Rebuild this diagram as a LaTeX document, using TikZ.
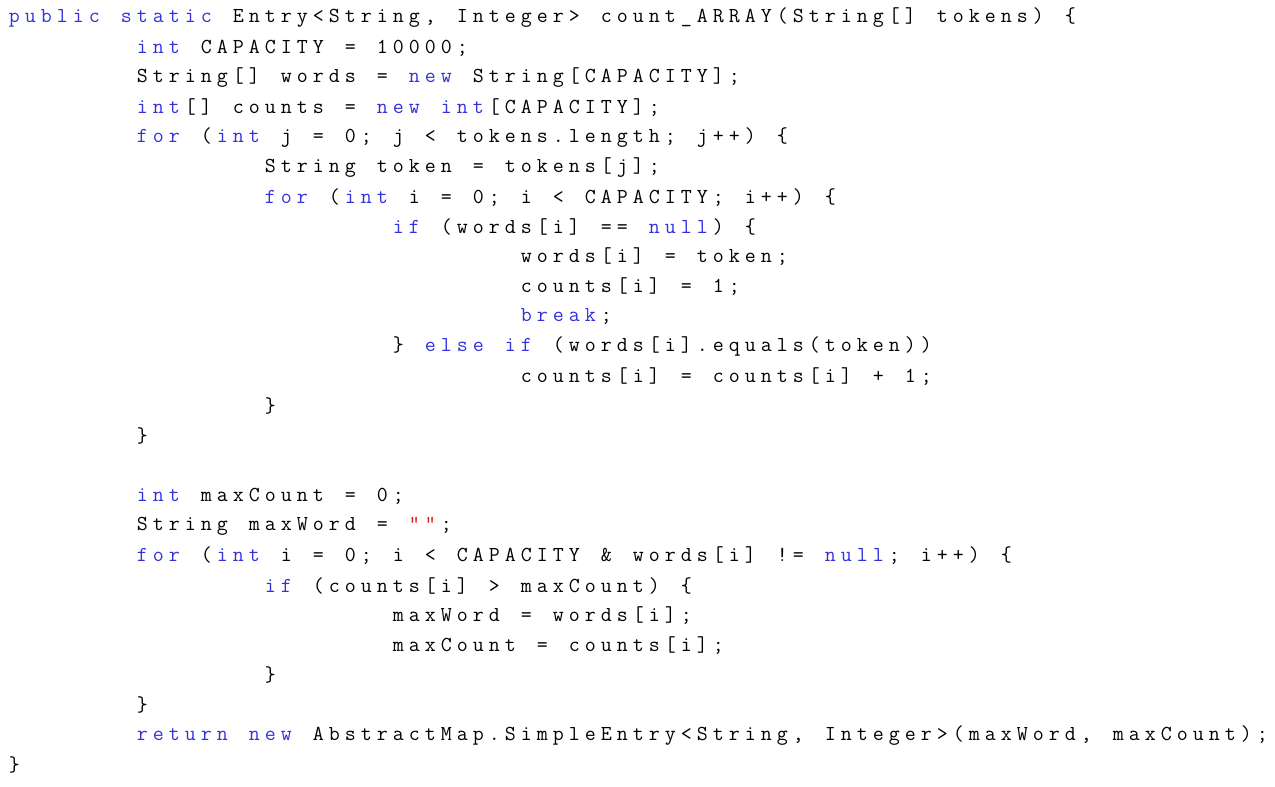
\documentclass[tikz,border=0pt]{standalone}
\usepackage{fontspec}
\definecolor{kwc}{RGB}{50,50,220}
\definecolor{strc}{RGB}{220,30,30}
\def\chs#1{\ifx#1\relax\else\makebox[12pt][c]{#1}\expandafter\chs\fi}
\def\pl#1{\chs#1\relax}
\def\kw#1{{\color{kwc}\chs#1\relax}}
\def\rd#1{{\color{strc}\chs#1\relax}}
\tikzset{codeline/.style={anchor=west,inner sep=0pt,font=\fontsize{16}{18}\selectfont\ttfamily}}
\newcommand\cl[4]{\node[codeline] (#1) at ({(6+16*#3)*0.75pt},{-(18+29.88*#2)*0.75pt}) {#4};}
\begin{document}
\begin{tikzpicture}
\useasboundingbox (0,0) rectangle (956.25pt,-590.25pt);
\cl{l0}{0}{0}{\kw{public~static}\pl{~Entry<String,~Integer>~count\_ARRAY(String[]~tokens)~\{}}
\cl{l1}{1}{8}{\kw{int}\pl{~CAPACITY~=~10000;}}
\cl{l2}{2}{8}{\pl{String[]~words~=~}\kw{new}\pl{~String[CAPACITY];}}
\cl{l3}{3}{8}{\kw{int}\pl{[]~counts~=~}\kw{new~int}\pl{[CAPACITY];}}
\cl{l4}{4}{8}{\kw{for}\pl{~(}\kw{int}\pl{~j~=~0;~j~<~tokens.length;~j++)~\{}}
\cl{l5}{5}{16}{\pl{String~token~=~tokens[j];}}
\cl{l6}{6}{16}{\kw{for}\pl{~(}\kw{int}\pl{~i~=~0;~i~<~CAPACITY;~i++)~\{}}
\cl{l7}{7}{24}{\kw{if}\pl{~(words[i]~==~}\kw{null}\pl{)~\{}}
\cl{l8}{8}{32}{\pl{words[i]~=~token;}}
\cl{l9}{9}{32}{\pl{counts[i]~=~1;}}
\cl{l10}{10}{32}{\kw{break}\pl{;}}
\cl{l11}{11}{24}{\pl{\}~}\kw{else~if}\pl{~(words[i].equals(token))}}
\cl{l12}{12}{32}{\pl{counts[i]~=~counts[i]~+~1;}}
\cl{l13}{13}{16}{\pl{\}}}
\cl{l14}{14}{8}{\pl{\}}}
\cl{l16}{16}{8}{\kw{int}\pl{~maxCount~=~0;}}
\cl{l17}{17}{8}{\pl{String~maxWord~=~}\rd{""}\pl{;}}
\cl{l18}{18}{8}{\kw{for}\pl{~(}\kw{int}\pl{~i~=~0;~i~<~CAPACITY~\&~words[i]~!=~}\kw{null}\pl{;~i++)~\{}}
\cl{l19}{19}{16}{\kw{if}\pl{~(counts[i]~>~maxCount)~\{}}
\cl{l20}{20}{24}{\pl{maxWord~=~words[i];}}
\cl{l21}{21}{24}{\pl{maxCount~=~counts[i];}}
\cl{l22}{22}{16}{\pl{\}}}
\cl{l23}{23}{8}{\pl{\}}}
\cl{l24}{24}{8}{\kw{return~new}\pl{~AbstractMap.SimpleEntry<String,~Integer>(maxWord,~maxCount);}}
\cl{l25}{25}{0}{\pl{\}}}
\end{tikzpicture}
\end{document}
